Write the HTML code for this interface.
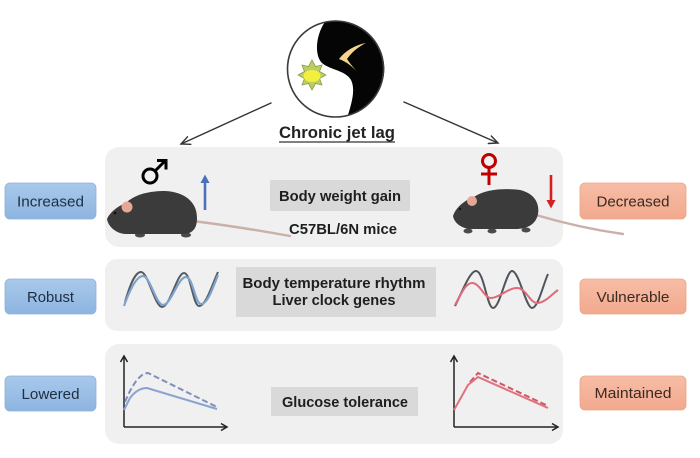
<!DOCTYPE html>
<html>
<head>
<meta charset="utf-8">
<style>
  html, body { margin: 0; padding: 0; background: #ffffff; }
  svg { display: block; }
  .lbl { font-family: "Liberation Sans", sans-serif; font-size: 15px; }
  .bold { font-family: "Liberation Sans", sans-serif; font-size: 15px; font-weight: bold; fill: #1e1e1e; }
</style>
</head>
<body>
<svg width="700" height="458" viewBox="0 0 700 458" xmlns="http://www.w3.org/2000/svg">
  <defs>
    <linearGradient id="gb" x1="0" y1="0" x2="0" y2="1">
      <stop offset="0" stop-color="#a9c9eb"/>
      <stop offset="1" stop-color="#8db4e0"/>
    </linearGradient>
    <linearGradient id="gs" x1="0" y1="0" x2="0" y2="1">
      <stop offset="0" stop-color="#f7bda6"/>
      <stop offset="1" stop-color="#f2a98e"/>
    </linearGradient>
  </defs>

  <rect x="0" y="0" width="700" height="458" fill="#ffffff"/>

  <!-- Day/night circle icon -->
  <circle cx="335.5" cy="69" r="48" fill="#ffffff"/>
  <path d="M324.7,22.2 C316,35 314,55 322,63 C330,70 345,70 351,80 C356,90 351,105 347.9,115.4 A48,48 0 0 0 324.7,22.2 Z" fill="#050505"/>
  <circle cx="335.5" cy="69" r="48" fill="none" stroke="#3a3a3a" stroke-width="1.6"/>
  <!-- sun -->
  <polygon points="326,75 319.5,78.5 322,85 315.5,83.5 312,90 308.5,83.5 302,85 304.5,78.5 298,75 304.5,71.5 302,65 308.5,66.5 312,60 315.5,66.5 322,65 319.5,71.5"
           fill="#bccd62" stroke="#8c9c45" stroke-width="0.8"/>
  <ellipse cx="312" cy="76" rx="8.5" ry="6" fill="#f3ef3e"/>
  <!-- moon -->
  <path d="M366,43 C355,45 345,51 339,59 C347,62 353,67 358,73 C352,66 349,62 347,59 C352,52 358,47 366,43 Z" fill="#f6d68c"/>

  <!-- arrows from circle -->
  <g stroke="#333333" stroke-width="1.4" fill="none" stroke-linecap="round">
    <line x1="271" y1="103" x2="181" y2="144"/>
    <polyline points="187.5,136.8 181,144 190.8,144.3"/>
    <line x1="404" y1="102" x2="498" y2="143"/>
    <polyline points="488.3,143.5 498,143 491.3,136"/>
  </g>

  <!-- title -->
  <text x="337" y="138" text-anchor="middle" font-family="Liberation Sans, sans-serif" font-size="17" font-weight="bold" fill="#222222" textLength="116" lengthAdjust="spacingAndGlyphs">Chronic jet lag</text>
  <line x1="279" y1="142" x2="395" y2="142" stroke="#333" stroke-width="1.3"/>

  <!-- panels -->
  <rect x="105" y="147" width="458" height="100" rx="14" fill="#f0f0f0"/>
  <rect x="105" y="259" width="458" height="72" rx="12" fill="#f0f0f0"/>
  <rect x="105" y="344" width="458" height="100" rx="14" fill="#f0f0f0"/>

  <!-- center text boxes -->
  <rect x="270" y="180" width="140" height="31" fill="#d9d9d9"/>
  <text x="340" y="201" text-anchor="middle" class="bold" textLength="122" lengthAdjust="spacingAndGlyphs">Body weight gain</text>
  <text x="343" y="234" text-anchor="middle" class="bold" textLength="108" lengthAdjust="spacingAndGlyphs">C57BL/6N mice</text>

  <rect x="236" y="267" width="200" height="50" fill="#d9d9d9"/>
  <text x="334" y="288" text-anchor="middle" class="bold" textLength="183" lengthAdjust="spacingAndGlyphs">Body temperature rhythm</text>
  <text x="334" y="305" text-anchor="middle" class="bold" textLength="123" lengthAdjust="spacingAndGlyphs">Liver clock genes</text>

  <rect x="271" y="387" width="147" height="29" fill="#d9d9d9"/>
  <text x="345" y="407" text-anchor="middle" class="bold" textLength="126" lengthAdjust="spacingAndGlyphs">Glucose tolerance</text>

  <!-- left labels -->
  <g stroke="#8fb0d8" stroke-width="0.8">
    <rect x="5" y="183" width="91" height="36" rx="5" fill="url(#gb)"/>
    <rect x="5" y="279" width="91" height="35" rx="5" fill="url(#gb)"/>
    <rect x="5" y="376" width="91" height="35" rx="5" fill="url(#gb)"/>
  </g>
  <g class="lbl" fill="#1f2d42" text-anchor="middle">
    <text x="50.5" y="206.5" textLength="67" lengthAdjust="spacingAndGlyphs">Increased</text>
    <text x="50.5" y="302" textLength="47" lengthAdjust="spacingAndGlyphs">Robust</text>
    <text x="50.5" y="399" textLength="58" lengthAdjust="spacingAndGlyphs">Lowered</text>
  </g>

  <!-- right labels -->
  <g stroke="#eba587" stroke-width="0.8">
    <rect x="580" y="183" width="106" height="36" rx="5" fill="url(#gs)"/>
    <rect x="580" y="279" width="106" height="35" rx="5" fill="url(#gs)"/>
    <rect x="580" y="376" width="106" height="34" rx="5" fill="url(#gs)"/>
  </g>
  <g class="lbl" fill="#3a2a22" text-anchor="middle">
    <text x="633" y="206.5" textLength="73" lengthAdjust="spacingAndGlyphs">Decreased</text>
    <text x="633" y="302" textLength="73" lengthAdjust="spacingAndGlyphs">Vulnerable</text>
    <text x="633" y="398" textLength="77" lengthAdjust="spacingAndGlyphs">Maintained</text>
  </g>

  <!-- male mouse -->
  <path d="M193,221 Q240,227 290,236" stroke="#c9b0a8" stroke-width="2.4" fill="none" stroke-linecap="round"/>
  <ellipse cx="140" cy="235" rx="5" ry="2.5" fill="#4a4a4a"/>
  <ellipse cx="186" cy="235" rx="5" ry="2.5" fill="#4a4a4a"/>
  <path d="M107,219 C110,212 118,206 126,203 C135,194 150,191 165,191 C185,192 197,202 197,218 C197,228 193,233 185,234 L125,234 C115,233 108,226 107,219 Z" fill="#3b3b3b"/>
  <circle cx="127" cy="207" r="5.5" fill="#e6a797"/>
  <circle cx="115" cy="213" r="1.3" fill="#111"/>
  <!-- male symbol -->
  <g stroke="#000" stroke-width="3" fill="none">
    <circle cx="150" cy="176" r="7"/>
    <line x1="155" y1="171" x2="165" y2="161"/>
    <polyline points="157,160.5 166,160.5 166,169.5"/>
  </g>
  <!-- blue arrow up -->
  <line x1="205" y1="210" x2="205" y2="181" stroke="#4a72b8" stroke-width="2.6"/>
  <polygon points="200.5,183 205,174.5 209.5,183" fill="#4a72b8"/>

  <!-- female mouse -->
  <path d="M536,215 Q580,228 623,234" stroke="#c9b0a8" stroke-width="2.4" fill="none" stroke-linecap="round"/>
  <ellipse cx="468" cy="231" rx="4.5" ry="2.5" fill="#4a4a4a"/>
  <ellipse cx="492" cy="231" rx="4.5" ry="2.5" fill="#4a4a4a"/>
  <ellipse cx="526" cy="230" rx="4.5" ry="2.5" fill="#4a4a4a"/>
  <path d="M453,216 C456,207 465,200 474,197 C485,189 505,188 520,190 C533,193 540,202 538,214 C536,224 528,229 515,229 L470,229 C460,228 454,222 453,216 Z" fill="#3b3b3b"/>
  <circle cx="472" cy="201" r="5" fill="#e6a797"/>
  <circle cx="460" cy="209" r="1.2" fill="#111"/>
  <!-- female symbol -->
  <g stroke="#c00000" stroke-width="3" fill="none">
    <circle cx="489" cy="161" r="6.5"/>
    <line x1="489" y1="167.5" x2="489" y2="185"/>
    <line x1="481" y1="174" x2="497" y2="174"/>
  </g>
  <!-- red arrow down -->
  <line x1="551" y1="175" x2="551" y2="202" stroke="#d42020" stroke-width="2.6"/>
  <polygon points="546.5,200 551,208.5 555.5,200" fill="#d42020"/>

  <!-- left waves -->
  <path d="M125,302 C130,285 135,272 141,272 C148,272 155,307 162,307 C170,307 177,273 184,273 C191,273 193,306 199,306 C206,306 212,285 218,272" stroke="#555b63" stroke-width="2" fill="none"/>
  <path d="M124,306 C129,292 136,276 143,276 C150,276 156,305 163,305 C171,305 178,277 186,277 C193,277 195,304 201,304 C208,304 213,287 218,275" stroke="#7fa3cc" stroke-width="2.2" fill="none"/>

  <!-- right waves -->
  <path d="M455,306 C463,290 470,271 476,271 C484,271 487,308 493,308 C500,308 506,271 512,271 C519,271 526,308 532,308 C538,308 543,285 548,274" stroke="#4f555c" stroke-width="2" fill="none"/>
  <path d="M455,305 C462,292 466,283 472,283 C480,283 484,298 491,298 C499,298 508,288 517,288 C526,288 530,303 537,303 C545,303 552,294 558,290" stroke="#e06a78" stroke-width="2" fill="none"/>

  <!-- left glucose graph -->
  <g stroke="#222" stroke-width="1.5" fill="none">
    <line x1="124" y1="427" x2="124" y2="357"/>
    <polyline points="120.5,362 124,356 127.5,362"/>
    <line x1="124" y1="427" x2="226" y2="427"/>
    <polyline points="221,423.5 227,427 221,430.5"/>
  </g>
  <path d="M125,402 C132,385 140,373 148,373 L217,407" stroke="#7f8fb8" stroke-width="2" stroke-dasharray="6,3" fill="none"/>
  <path d="M124,410 L130,398 C136,390 142,388 147,388 L217,409" stroke="#8aa2d0" stroke-width="2" fill="none"/>

  <!-- right glucose graph -->
  <g stroke="#222" stroke-width="1.5" fill="none">
    <line x1="454" y1="427" x2="454" y2="357"/>
    <polyline points="450.5,362 454,356 457.5,362"/>
    <line x1="454" y1="427" x2="557" y2="427"/>
    <polyline points="552,423.5 558,427 552,430.5"/>
  </g>
  <path d="M470,382 L478,373 L548,406" stroke="#cf5866" stroke-width="2" stroke-dasharray="6,3" fill="none"/>
  <path d="M454,410 L468,385 L478,377 L548,408" stroke="#e3707d" stroke-width="2" fill="none"/>
</svg>
</body>
</html>
